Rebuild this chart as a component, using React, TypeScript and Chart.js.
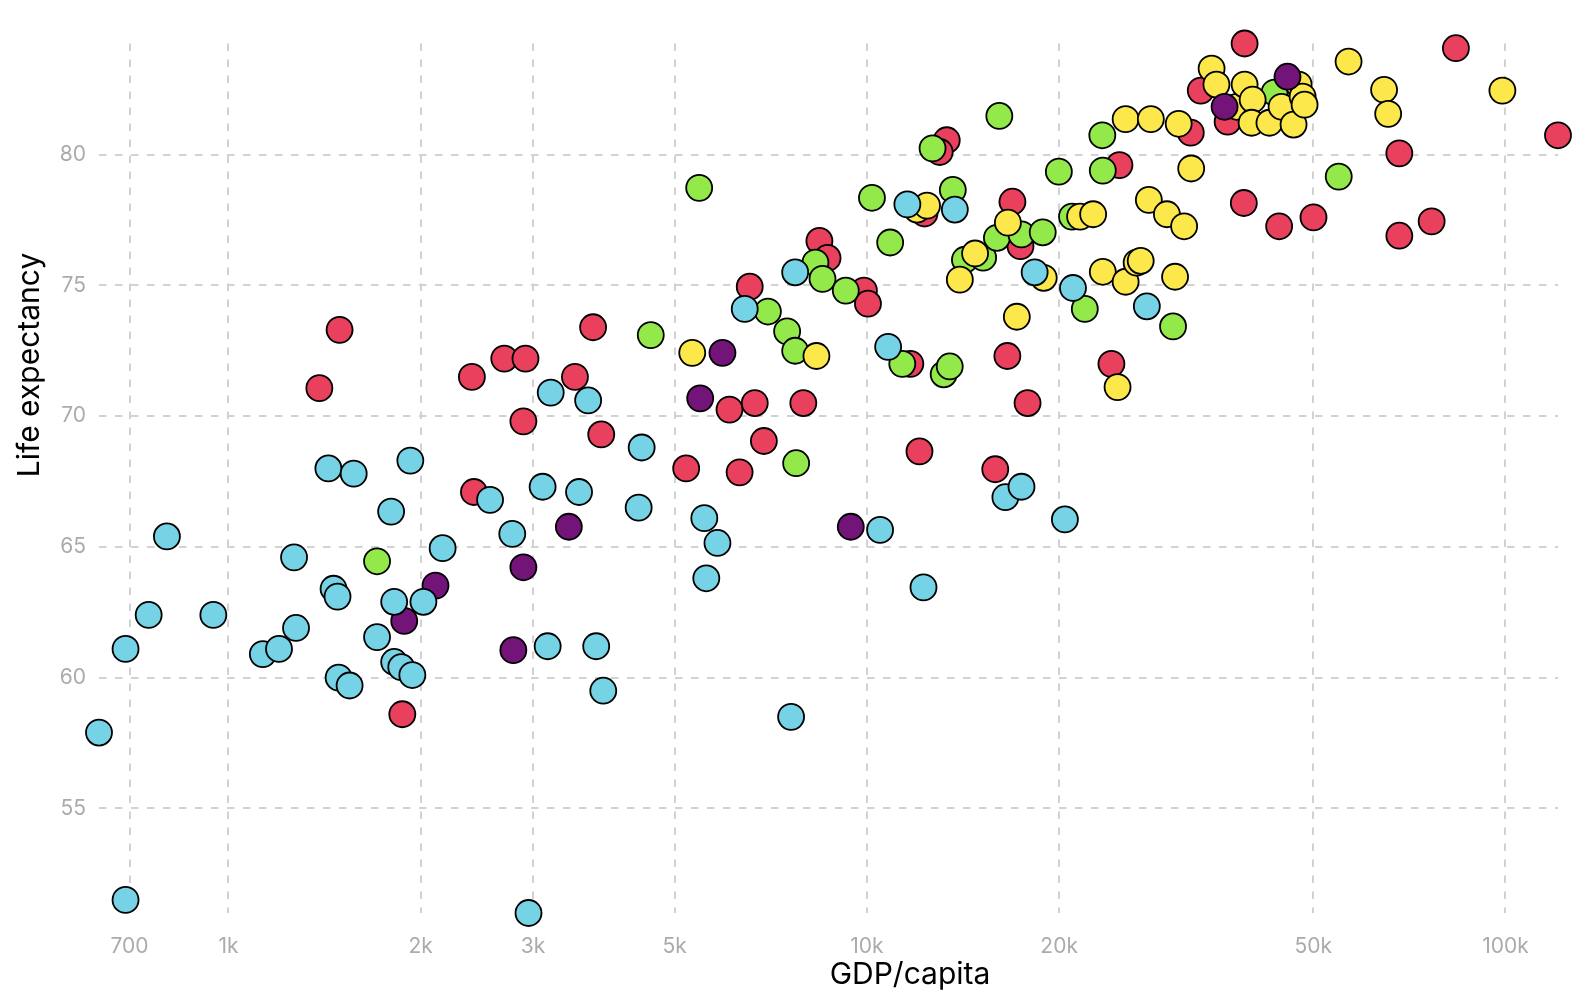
import { useEffect, useRef } from 'react';
import { Chart, registerables } from 'chart.js';

Chart.register(...registerables);

// GDP per capita and life expectancy, one pair of arrays per colour group
const africaGdp = [627, 690, 690, 750, 801, 947, 1132, 1200, 1267, 1276, 1434, 1461, 1482, 1488, 1548, 1571, 1709, 1798, 1818, 1818, 1865, 1941, 1927, 2020, 2165, 2569, 2783, 2951, 3105, 3162, 3197, 3541, 3659, 3767, 3864, 4390, 4438, 5563, 5603, 5833, 6436, 7607, 7720, 10486, 10795, 11570, 12263, 13730, 16476, 17462, 18310, 20420, 21025, 27440];
const africaLife = [57.9, 51.5, 61.1, 62.4, 65.4, 62.4, 60.9, 61.1, 64.6, 61.9, 68.0, 63.4, 63.1, 60.0, 59.7, 67.8, 61.55, 66.35, 62.9, 60.6, 60.4, 60.1, 68.3, 62.9, 64.95, 66.8, 65.5, 51.0, 67.3, 61.2, 70.9, 67.1, 70.6, 61.2, 59.5, 66.5, 68.8, 66.1, 63.8, 65.15, 74.1, 58.5, 75.5, 65.65, 72.65, 78.1, 63.45, 77.9, 66.9, 67.3, 75.5, 66.05, 74.9, 74.2];

const asiaGdp = [1388, 1493, 1872, 2406, 2424, 2704, 2897, 2919, 3489, 3725, 3836, 5211, 6092, 6318, 6553, 6673, 6896, 7950, 8425, 8676, 9892, 10037, 11695, 12087, 12307, 13335, 13000, 15885, 16594, 16900, 17398, 17847, 24150, 24860, 32150, 33330, 36720, 38930, 39040, 44220, 50050, 68210, 68210, 76640, 83650, 120880];
const asiaLife = [71.07, 73.3, 58.6, 71.5, 67.1, 72.2, 69.8, 72.2, 71.5, 73.4, 69.3, 68.0, 70.25, 67.85, 74.95, 70.5, 69.05, 70.5, 76.7, 76.05, 74.8, 74.3, 72.0, 68.65, 77.75, 80.55, 80.1, 67.97, 72.3, 78.2, 76.5, 70.5, 72.0, 79.6, 80.84, 82.45, 81.26, 78.15, 84.25, 77.26, 77.6, 80.05, 76.9, 77.45, 84.07, 80.74];

const americasGdp = [1709, 4586, 5461, 6997, 7499, 7720, 7747, 8305, 8520, 9265, 10183, 10874, 11360, 12670, 13190, 13480, 13630, 14240, 15205, 16120, 15980, 17460, 18850, 19980, 20950, 21940, 23370, 23410, 30160, 43490, 54820];
const americasLife = [64.45, 73.1, 78.73, 74.0, 73.24, 72.5, 68.2, 75.87, 75.25, 74.8, 78.35, 76.64, 72.0, 80.24, 71.6, 71.9, 78.65, 75.98, 76.06, 81.48, 76.82, 76.95, 77.03, 79.35, 77.63, 74.1, 80.74, 79.39, 73.43, 82.37, 79.16];

const europeGdp = [5326, 8335, 11980, 12420, 13980, 14770, 16625, 17170, 18920, 21570, 22610, 23410, 24690, 25420, 25420, 26450, 26840, 27640, 27840, 29500, 30380, 30780, 31390, 32200, 34660, 35270, 37950, 39040, 40190, 40040, 42700, 44610, 46580, 47440, 48120, 48470, 56800, 64560, 65520, 98920];
const europeLife = [72.42, 72.3, 77.9, 78.05, 75.22, 76.22, 77.4, 73.8, 75.29, 77.63, 77.72, 75.52, 71.11, 75.14, 81.36, 75.87, 75.94, 78.27, 81.36, 77.72, 75.33, 81.18, 77.26, 79.47, 83.29, 82.68, 81.83, 82.68, 82.1, 81.22, 81.22, 81.83, 81.15, 82.68, 82.22, 81.91, 83.56, 82.48, 81.56, 82.45];

const oceaniaGdp = [1885, 2110, 2794, 2897, 3413, 5481, 5939, 9434, 36320, 45570];
const oceaniaLife = [62.17, 63.52, 61.05, 64.22, 65.77, 70.68, 72.42, 65.77, 81.83, 82.98];

const xTickValues = [700, 1000, 2000, 3000, 5000, 10000, 20000, 50000, 100000];
const yTickValues = [55, 60, 65, 70, 75, 80];

const allGdp = [...africaGdp, ...asiaGdp, ...americasGdp, ...europeGdp, ...oceaniaGdp];
const allLife = [...africaLife, ...asiaLife, ...americasLife, ...europeLife, ...oceaniaLife];

const toPoints = (gdp: number[], life: number[]) => gdp.map((g, i) => ({ x: g, y: life[i] }));

const formatGdp = (v: number) => (v >= 1000 ? `${v / 1000}k` : `${v}`);

// axis titles sit off-centre in the reference, so they are drawn here
const axisTitles = {
  id: 'axisTitles',
  afterDraw(chart: any) {
    const { ctx } = chart;
    ctx.save();
    ctx.fillStyle = '#000';
    ctx.font = '30px Inter';
    ctx.textAlign = 'center';
    ctx.textBaseline = 'middle';
    ctx.fillText('GDP/capita', 910, 975);
    ctx.translate(30, 365);
    ctx.rotate(-Math.PI / 2);
    ctx.fillText('Life expectancy', 0, 0);
    ctx.restore();
  },
};

const App = () => {
  const chartRef = useRef<HTMLCanvasElement | null>(null);
  const chartInstanceRef = useRef<Chart | null>(null);

  useEffect(() => {
    if (!chartRef.current) return;
    const ctx = chartRef.current.getContext('2d');
    if (!ctx) return;
    if (chartInstanceRef.current) {
      chartInstanceRef.current.destroy();
    }

    const group = (label: string, gdp: number[], life: number[], color: string) => ({
      label,
      data: toPoints(gdp, life),
      backgroundColor: color,
      borderColor: '#000',
      borderWidth: 1.8,
      pointRadius: 13,
      pointHoverRadius: 13,
      clip: false as const,
    });

    chartInstanceRef.current = new Chart(ctx, {
      type: 'scatter',
      data: {
        datasets: [
          group('Africa', africaGdp, africaLife, '#76d3e6'),
          group('Oceania', oceaniaGdp, oceaniaLife, '#731478'),
          group('Europe', europeGdp, europeLife, '#fde84c'),
          group('Americas', americasGdp, americasLife, '#93e94a'),
          group('Asia', asiaGdp, asiaLife, '#e9405e'),
        ],
      },
      options: {
        animation: false,
        responsive: true,
        maintainAspectRatio: false,
        layout: { autoPadding: false, padding: { top: 43.5, right: 28, left: 0, bottom: 0 } },
        plugins: {
          legend: { display: false },
          tooltip: { enabled: false },
        },
        scales: {
          x: {
            type: 'logarithmic',
            min: Math.min(...allGdp),
            max: Math.max(...allGdp),
            afterBuildTicks: (axis: any) => {
              axis.ticks = xTickValues.map((v) => ({ value: v }));
            },
            afterFit: (axis: any) => {
              axis.height = 93;
            },
            ticks: {
              autoSkip: false,
              maxRotation: 0,
              padding: 21,
              color: '#ababab',
              font: { family: 'Inter', size: 21 },
              callback: (v: any) => formatGdp(Number(v)),
            },
            grid: { color: '#d2d2d2', lineWidth: 2, drawTicks: false },
            border: { display: false, dash: [7.5, 8.5] },
          },
          y: {
            min: Math.min(...allLife),
            max: Math.max(...allLife),
            afterBuildTicks: (axis: any) => {
              axis.ticks = yTickValues.map((v) => ({ value: v }));
            },
            afterFit: (axis: any) => {
              axis.width = 99;
            },
            ticks: {
              padding: 13,
              color: '#ababab',
              font: { family: 'Inter', size: 21 },
            },
            grid: { color: '#d2d2d2', lineWidth: 2, drawTicks: false },
            border: { display: false, dash: [7.5, 8.5] },
          },
        },
      },
      plugins: [axisTitles],
    });

    return () => {
      if (chartInstanceRef.current) {
        chartInstanceRef.current.destroy();
        chartInstanceRef.current = null;
      }
    };
  }, []);

  return (
    <div style={{ position: 'fixed', left: 0, top: 0, width: '1586px', height: '1006px', background: '#fff' }}>
      <canvas ref={chartRef}></canvas>
    </div>
  );
};

export default App;
